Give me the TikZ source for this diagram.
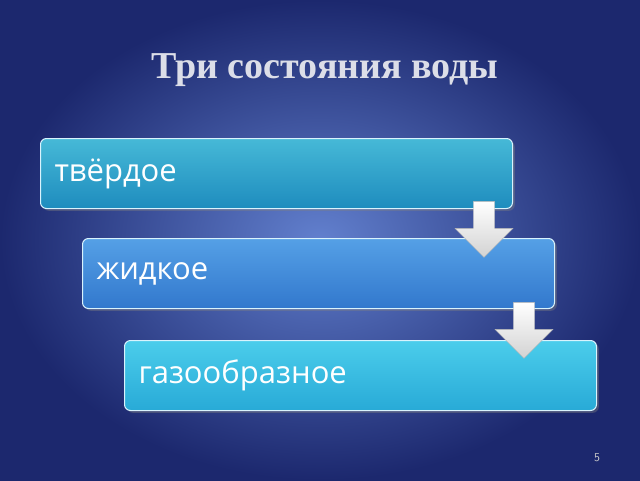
\documentclass[tikz,border=0pt]{standalone}
\usepackage{fontspec}
\setmainfont{Liberation Serif}
\newfontfamily\sansf{Open Sans}
\usetikzlibrary{shapes.arrows,shadows}
\begin{document}
\begin{tikzpicture}[x=1pt,y=-1pt,
  stage/.style={draw=white!85!cyan, line width=1pt, rounded corners=6pt, anchor=north west,
    minimum height=70pt, text width=444pt, inner xsep=14pt, align=left,
    font=\sansf\fontsize{31}{36}\selectfont, text=white, drop shadow={opacity=0.4}},
  downarrow/.style={single arrow, shape border rotate=270, draw=gray!60, top color=white, bottom color=gray!35,
    minimum width=58pt, single arrow head extend=14pt, single arrow tip angle=90, minimum height=56pt, inner sep=8pt}]
\useasboundingbox (0,0) rectangle (640,480);
\shade[inner color={rgb,255:red,98;green,128;blue,206}, outer color={rgb,255:red,28;green,40;blue,110}] (0,0) rectangle (640,480);
\node[font=\bfseries\fontsize{38}{42}\selectfont, text={rgb,255:red,220;green,222;blue,232}] (title) at (325,70) {Три состояния воды};
\node[stage, top color={rgb,255:red,70;green,185;blue,215}, bottom color={rgb,255:red,30;green,140;blue,190}] (s1) at (40,138) {твёрдое};
\node[stage, top color={rgb,255:red,85;green,160;blue,230}, bottom color={rgb,255:red,50;green,120;blue,205}] (s2) at (82,238) {жидкое};
\node[stage, top color={rgb,255:red,75;green,205;blue,235}, bottom color={rgb,255:red,40;green,170;blue,215}] (s3) at (124,340) {газообразное};
\node[downarrow] (a1) at (484,224) {};
\node[downarrow] (a2) at (524,325) {};
\node[font=\sffamily\fontsize{12}{14}\selectfont, text=gray!40] (pn) at (597,458) {5};
\end{tikzpicture}
\end{document}
